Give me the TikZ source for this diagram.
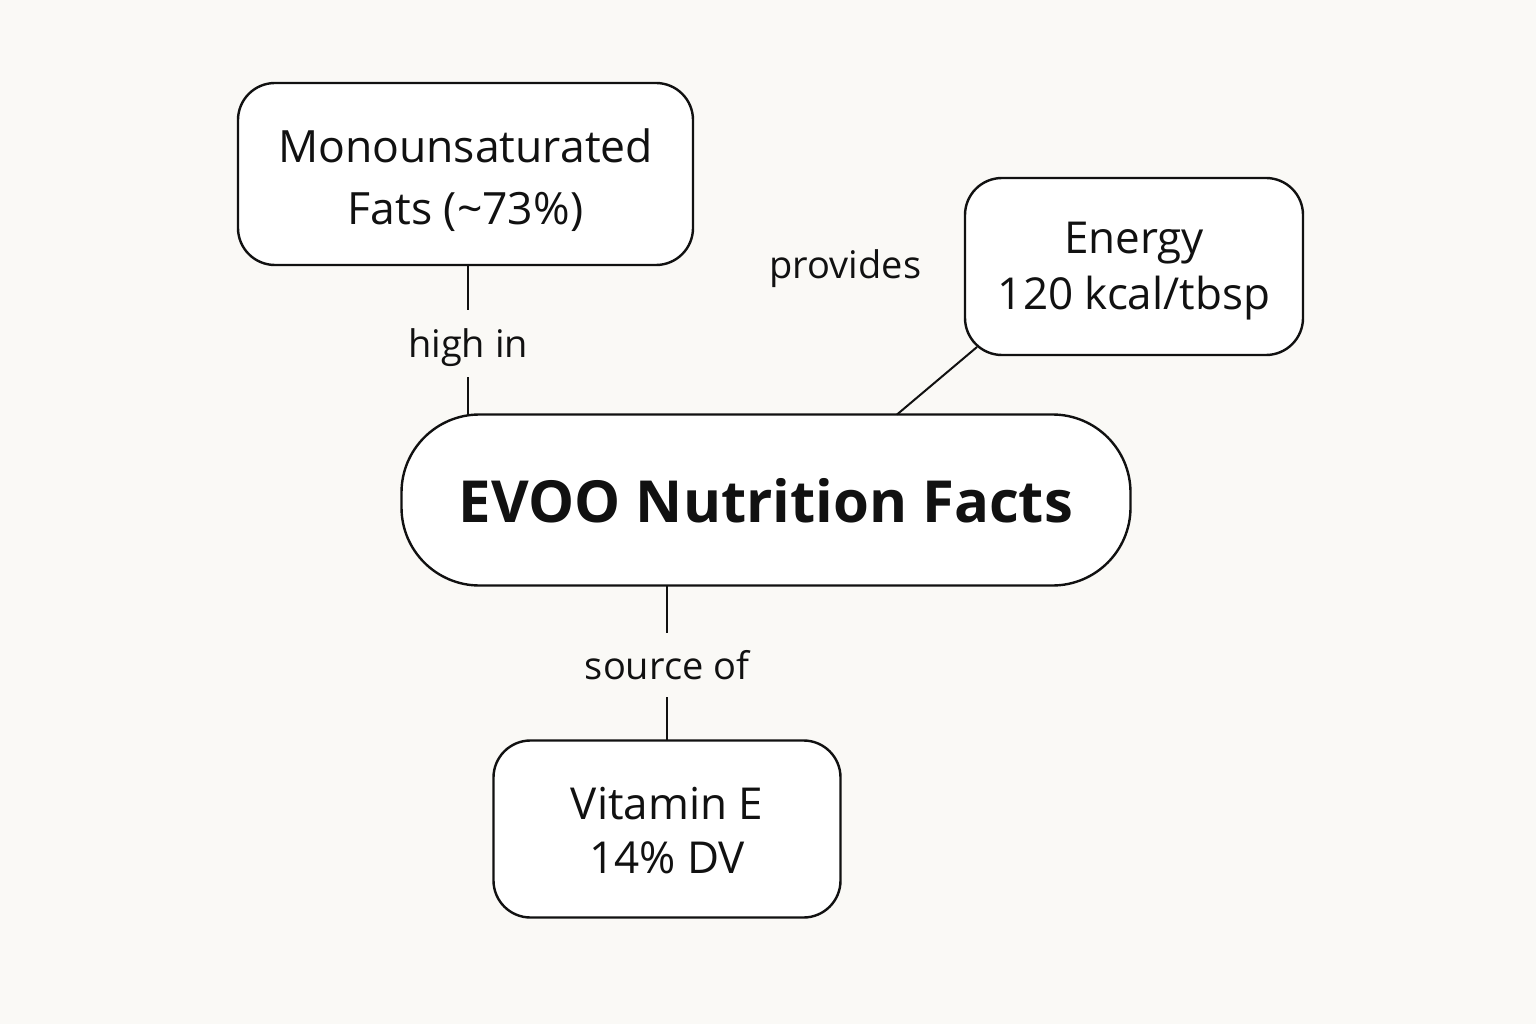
\documentclass[tikz,border=0pt]{standalone}
\usepackage{fontspec}
\setmainfont{Open Sans}
\usetikzlibrary{calc}
\definecolor{bgc}{HTML}{FAF9F6}
\definecolor{ink}{HTML}{111111}
\begin{document}
\begin{tikzpicture}[x=1pt,y=-1pt,
  box/.style={draw=ink, line width=2.4pt, fill=white, rounded corners=37pt,
    align=center, inner sep=0pt, outer sep=0pt, text=ink, text depth=0pt},
  lbl/.style={inner sep=0pt, outer sep=0pt, text=ink,
    font=\fontsize{38}{44}\selectfont},
  conn/.style={draw=ink, line width=2pt}]
\fill[bgc] (0,0) rectangle (1536,1024);
\useasboundingbox (0,0) rectangle (1536,1024);

\node[box, minimum width=455pt, minimum height=182pt, text height=102pt,
  font=\fontsize{44.5}{62}\selectfont] (mono) at (465.5,174) {Monounsaturated\\Fats (\textasciitilde73\%)};
\node[box, minimum width=338pt, minimum height=177pt, text height=85pt,
  font=\fontsize{44}{56}\selectfont] (energy) at (1134,266.5) {Energy\\120 kcal/tbsp};
\node[box, rounded corners=78pt, minimum width=729pt, minimum height=171pt, text height=44pt,
  font=\fontsize{58}{66}\selectfont\bfseries] (centre) at (766,500) {EVOO Nutrition Facts};
\node[box, minimum width=347pt, minimum height=177pt, text height=88pt,
  font=\fontsize{44}{54}\selectfont] (vit) at (667,829) {Vitamin E\\14\% DV};

\node[lbl, minimum height=67pt, text depth=0pt] (highin) at (468,343.5) {high in};
\node[lbl] (provides) at (845.5,269) {provides};
\node[lbl, minimum height=64pt] (sourceof) at (667,665) {source of};

\draw[conn] (mono.south -| highin.north) -- (highin.north);
\draw[conn] (highin.south) -- (centre.north -| highin.south);
\draw[conn] ($(energy.south west)+(12,-8)$) -- ($(centre.north)+(131,0)$);
\draw[conn] (centre.south -| sourceof.north) -- (sourceof.north);
\draw[conn] (sourceof.south) -- (vit.north -| sourceof.south);
\end{tikzpicture}
\end{document}
